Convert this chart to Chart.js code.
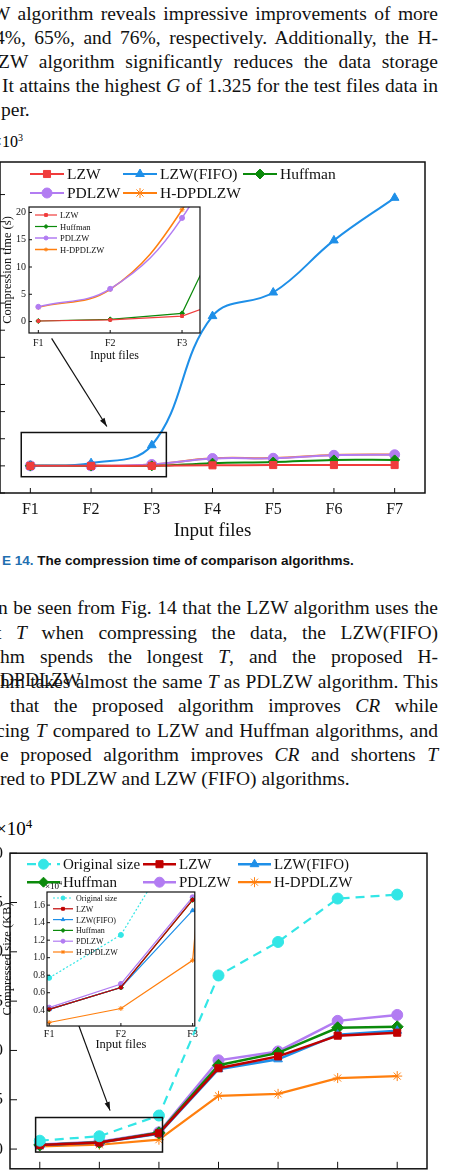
<!DOCTYPE html>
<html>
<head>
<meta charset="utf-8">
<script src="https://cdn.jsdelivr.net/npm/chart.js@4.4.0/dist/chart.umd.min.js"></script>
<style>
  body { margin: 0; width: 474px; height: 1175px; overflow: hidden; background: #fff; position: relative; font-family: "Liberation Serif", "Times New Roman", serif; }
  .ln { position: absolute; font-size: 19.5px; line-height: 23px; white-space: nowrap; color: #111; }
  .j { text-align: justify; text-align-last: justify; white-space: normal; }
  .cap { position: absolute; left: 2px; top: 553px; font: bold 13.5px "Liberation Sans", Arial, sans-serif; color: #111; }
  .cap b { color: #1f6fb0; }
  canvas { position: absolute; }
  .unit { position: absolute; font-size: 16px; }
  .unit sup { font-size: 10px; }
</style>
</head>
<body>
<div class="ln j" style="top:2px;left:-8px;width:446px">W algorithm reveals impressive improvements of more</div>
<div class="ln j" style="top:26px;left:-5px;width:443px">4%, 65%, and 76%, respectively. Additionally, the H-</div>
<div class="ln j" style="top:50px;left:-2px;width:440px">ZW algorithm significantly reduces the data storage</div>
<div class="ln j" style="top:74px;left:2px;width:436px">It attains the highest <i>G</i> of 1.325 for the test files data in</div>
<div class="ln" style="top:98px;left:1px">per.</div>
<div class="unit" style="left:-7px;top:132px">×10<sup>3</sup></div>

<canvas id="c1"></canvas>
<canvas id="c1i"></canvas>

<div class="cap"><b>E 14.</b> The compression time of comparison algorithms.</div>

<div class="ln j" style="top:596px;left:-2px;width:440px">n be seen from Fig. 14 that the LZW algorithm uses the</div>
<div class="ln j" style="top:621px;left:-4px;width:442px">t <i>T</i> when compressing the data, the LZW(FIFO)</div>
<div class="ln j" style="top:645px;left:0px;width:438px">hm spends the longest <i>T</i>, and the proposed H-DPDLZW</div>
<div class="ln j" style="top:670px;left:0px;width:438px">hm takes almost the same <i>T</i> as PDLZW algorithm. This</div>
<div class="ln j" style="top:694px;left:10px;width:428px">that the proposed algorithm improves <i>CR</i> while</div>
<div class="ln j" style="top:719px;left:-4px;width:442px">cing <i>T</i> compared to LZW and Huffman algorithms, and</div>
<div class="ln j" style="top:743px;left:0px;width:438px">e proposed algorithm improves <i>CR</i> and shortens <i>T</i></div>
<div class="ln" style="top:767px;left:0px">red to PDLZW and LZW (FIFO) algorithms.</div>
<div class="unit" style="left:-4px;top:816px;font-size:19px">×10<sup style="font-size:13px">4</sup></div>

<canvas id="c2"></canvas>
<canvas id="c2i"></canvas>
<div class="unit" style="left:45px;top:880px;font-size:9px">×10<sup style="font-size:6px">4</sup></div>

<script>
// ---- data: compression time (main in tick units of the ×10^3 axis, inset in seconds)
const files = ['F1', 'F2', 'F3', 'F4', 'F5', 'F6', 'F7'];
const timeLZW     = [0, 0, 0, 0.02, 0.03, 0.03, 0.03];
const timeFIFO    = [0, 0.1, 0.76, 5.52, 6.39, 8.31, 9.88];
const timeHuffman = [0, 0, 0, 0.1, 0.14, 0.22, 0.22];
const timePDLZW   = [0, 0, 0.05, 0.27, 0.28, 0.39, 0.41];
const timeHDP     = [0, 0, 0.05, 0.28, 0.29, 0.4, 0.42];

const insetFiles = [0, 1, 2, 3];
const insLZW     = [0.1, 0.3, 1.0, 5.8];
const insHuffman = [0.1, 0.4, 1.5, 29];
const insPDLZW   = [2.7, 6.0, 19.0, 45];
const insHDP     = [2.6, 5.9, 20.5, 46];

// ---- data: compressed size (×10^4 KB)
const sizeOrig    = [0.085, 0.13, 0.34, 1.76, 2.10, 2.54, 2.58];
const sizeLZW     = [0.042, 0.066, 0.16, 0.82, 0.94, 1.15, 1.18];
const sizeFIFO    = [0.042, 0.066, 0.155, 0.81, 0.91, 1.16, 1.20];
const sizeHuffman = [0.042, 0.068, 0.165, 0.85, 0.975, 1.23, 1.24];
const sizePDLZW   = [0.047, 0.075, 0.17, 0.90, 0.99, 1.30, 1.36];
const sizeHDP     = [0.028, 0.044, 0.095, 0.54, 0.56, 0.72, 0.74];

const insSizeOrig    = [0.77, 1.26, 2.6];
const insSizeLZW     = [0.41, 0.66, 1.66];
const insSizeFIFO    = [0.41, 0.66, 1.54];
const insSizeHuffman = [0.41, 0.66, 1.66];
const insSizePDLZW   = [0.43, 0.70, 1.69];
const insSizeHDP     = [0.26, 0.42, 0.97, 10];

const SERIF = '"Liberation Serif", "Times New Roman", serif';
const C = {
  red: '#f03c3c', darkred: '#c00000', blue: '#1e8fe8', green: '#0b8a0b',
  purple: '#b27cf2', orange: '#ff7f0e', cyan: '#33e6e6'
};

function ds(label, data, color, style, opt) {
  return Object.assign({
    label, data, borderColor: color, backgroundColor: color,
    pointStyle: style, pointRadius: 5, pointBorderWidth: 1, borderWidth: 2,
    tension: 0
  }, opt || {});
}

// frame, inward ticks, inner legend, zoom box + arrow
const decor = {
  id: 'decor',
  beforeDatasetsDraw(chart, args, o) {
    const a = chart.chartArea, ctx = chart.ctx;
    if (o.fill) { ctx.save(); ctx.fillStyle = '#fff'; ctx.fillRect(a.left, a.top, a.right - a.left, a.bottom - a.top); ctx.restore(); }
  },
  afterDraw(chart, args, o) {
    const a = chart.chartArea, ctx = chart.ctx, x = chart.scales.x, y = chart.scales.y;
    ctx.save();
    ctx.strokeStyle = '#111';
    ctx.lineWidth = o.frame || 1.5;
    ctx.strokeRect(a.left, a.top, a.right - a.left, a.bottom - a.top);
    const tl = o.tick || 5;
    ctx.lineWidth = 1;
    ctx.beginPath();
    y.ticks.forEach(t => { const p = y.getPixelForValue(t.value); ctx.moveTo(a.left, p); ctx.lineTo(a.left + tl, p); });
    x.ticks.forEach((t, i) => { const p = x.getPixelForTick(i); ctx.moveTo(p, a.bottom); ctx.lineTo(p, a.bottom - tl); });
    ctx.stroke();
    if (o.box) {
      const b = o.box;
      ctx.lineWidth = 1.5;
      const x0 = x.getPixelForValue(b[0]), x1 = x.getPixelForValue(b[1]);
      const y0 = y.getPixelForValue(b[2]), y1 = y.getPixelForValue(b[3]);
      ctx.strokeRect(x0, y0, x1 - x0, y1 - y0);
    }
    if (o.arrow) {
      const r = o.arrow;
      const ax = x.getPixelForValue(r[0]), ay = y.getPixelForValue(r[1]);
      const bx = x.getPixelForValue(r[2]), by = y.getPixelForValue(r[3]);
      ctx.lineWidth = 1.2;
      ctx.beginPath(); ctx.moveTo(ax, ay); ctx.lineTo(bx, by); ctx.stroke();
      const ang = Math.atan2(by - ay, bx - ax);
      ctx.beginPath();
      ctx.moveTo(bx, by);
      ctx.lineTo(bx - 9 * Math.cos(ang - 0.3), by - 9 * Math.sin(ang - 0.3));
      ctx.lineTo(bx - 9 * Math.cos(ang + 0.3), by - 9 * Math.sin(ang + 0.3));
      ctx.closePath(); ctx.fillStyle = '#111'; ctx.fill();
    }
    if (o.legend) {
      const L = o.legend;
      ctx.font = L.font + 'px ' + SERIF;
      ctx.textBaseline = 'middle';
      chart.data.datasets.forEach((d, i) => {
        const col = i % L.cols, row = Math.floor(i / L.cols);
        const lx = a.left + L.x + (L.colX ? L.colX[col] : col * L.colW);
        const ly = a.top + L.y + row * L.rowH;
        ctx.strokeStyle = d.borderColor; ctx.fillStyle = d.backgroundColor;
        ctx.lineWidth = d.borderWidth;
        ctx.setLineDash(d.borderDash || []);
        ctx.beginPath(); ctx.moveTo(lx, ly); ctx.lineTo(lx + L.len, ly); ctx.stroke();
        ctx.setLineDash([]);
        ctx.lineWidth = 1;
        Chart.helpers.drawPoint(ctx, { pointStyle: d.pointStyle, radius: L.r, rotation: 0, borderWidth: 1 }, lx + L.len / 2, ly);
        ctx.fillStyle = '#111';
        ctx.fillText(d.label, lx + L.len + 3, ly + 1);
      });
    }
    ctx.restore();
  }
};

function place(id, left, top, w, h) {
  const c = document.getElementById(id);
  c.style.left = left + 'px'; c.style.top = top + 'px';
  c.style.width = w + 'px'; c.style.height = h + 'px';
  c.width = w; c.height = h;
  return c;
}

function keepTicks(step) {
  return s => { s.ticks = s.ticks.filter(t => Math.abs(t.value / step - Math.round(t.value / step)) < 1e-6); };
}
function fixedTicks(values) {
  return s => { s.ticks = values.map(v => ({ value: v })); };
}

function makeChart(id, cfg) {
  return new Chart(document.getElementById(id), Object.assign(cfg, { plugins: [decor] }));
}

Chart.defaults.font.family = SERIF;
Chart.defaults.color = '#111';
Chart.defaults.animation = false;

// ---------- chart 1: compression time ----------
place('c1', -40, 150, 480, 400);
makeChart('c1', {
  type: 'line',
  data: {
    labels: files,
    datasets: [
      ds('LZW', timeLZW, C.red, 'rect', { tension: 0.4 }),
      ds('LZW(FIFO)', timeFIFO, C.blue, 'triangle', { tension: 0.4 }),
      ds('Huffman', timeHuffman, C.green, 'rectRot', { tension: 0.4 }),
      ds('PDLZW', timePDLZW, C.purple, 'circle', { tension: 0.4 }),
      ds('H-DPDLZW', timeHDP, C.orange, 'star', { tension: 0.4, pointRadius: 4 })
    ]
  },
  options: {
    responsive: false, events: [],
    layout: { padding: { top: 6, right: 15, left: 0, bottom: 0 } },
    plugins: {
      legend: { display: false }, tooltip: { enabled: false },
      decor: {
        box: [-0.15, 2.24, 1.23, -0.4], arrow: [0.35, 4.7, 1.26, 1.45],
        legend: { x: 30, y: 12, cols: 3, colX: [0, 93, 213], rowH: 19, len: 34, font: 15.5, r: 5 }
      }
    },
    scales: {
      x: {
        offset: true,
        grid: { display: false, drawTicks: false },
        border: { display: false },
        ticks: { font: { size: 16 }, padding: 7 },
        title: { display: true, text: 'Input files', font: { size: 19 }, padding: { top: 0, bottom: 8 } },
        afterFit: s => { s.height = 57; }
      },
      y: {
        min: -1, max: 11.2,
        grid: { display: false, drawTicks: false },
        border: { display: false },
        ticks: { stepSize: 1, font: { size: 15 } },
        afterBuildTicks: keepTicks(1),
        afterFit: s => { s.width = 40; }
      }
    }
  }
});

// ---------- inset 1 ----------
place('c1i', 0, 198, 205, 165);
makeChart('c1i', {
  type: 'line',
  data: {
    labels: insetFiles,
    datasets: [
      ds('LZW', insetFiles.map((v, i) => ({ x: v, y: insLZW[i] })), C.red, 'rect', { pointRadius: 2, borderWidth: 1.2 }),
      ds('Huffman', insetFiles.map((v, i) => ({ x: v, y: insHuffman[i] })), C.green, 'rectRot', { pointRadius: 2.5, borderWidth: 1.2 }),
      ds('PDLZW', insetFiles.map((v, i) => ({ x: v, y: insPDLZW[i] })), C.purple, 'circle', { pointRadius: 2.5, borderWidth: 1.5, tension: 0.4 }),
      ds('H-DPDLZW', insetFiles.map((v, i) => ({ x: v, y: insHDP[i] })), C.orange, 'star', { pointRadius: 2.5, borderWidth: 1.5, tension: 0.4 })
    ]
  },
  options: {
    responsive: false, events: [],
    layout: { padding: { top: 5, right: 5 } },
    plugins: {
      legend: { display: false }, tooltip: { enabled: false },
      decor: {
        fill: true, frame: 1.2, tick: 3,
        legend: { x: 6, y: 8, cols: 1, colW: 0, rowH: 11.5, len: 22, font: 8.5, r: 2 }
      }
    },
    scales: {
      x: {
        type: 'linear', min: -0.13, max: 2.25,
        grid: { display: false, drawTicks: false }, border: { display: false },
        ticks: { font: { size: 10 }, padding: 4, callback: v => files[v] },
        afterBuildTicks: fixedTicks([0, 1, 2]),
        title: { display: true, text: 'Input files', font: { size: 12 }, padding: 0 },
        afterFit: s => { s.height = 30; }
      },
      y: {
        min: -2.1, max: 21,
        grid: { display: false, drawTicks: false }, border: { display: false },
        ticks: { font: { size: 10 }, padding: 3 },
        afterBuildTicks: fixedTicks([0, 5, 10, 15, 20]),
        title: { display: true, text: 'Compression time (s)', font: { size: 12.5 }, padding: 0 },
        afterFit: s => { s.width = 29; }
      }
    }
  }
});

// ---------- chart 2: compressed size ----------
place('c2', -30, 836, 470, 350);
makeChart('c2', {
  type: 'line',
  data: {
    labels: files,
    datasets: [
      ds('Original size', sizeOrig, C.cyan, 'circle', { borderDash: [9, 6], pointRadius: 5.5, borderWidth: 2.2 }),
      ds('LZW', sizeLZW, C.darkred, 'rect', { borderWidth: 2.5 }),
      ds('LZW(FIFO)', sizeFIFO, C.blue, 'triangle', { borderWidth: 2.5 }),
      ds('Huffman', sizeHuffman, C.green, 'rectRot', { borderWidth: 2.5, pointRadius: 6 }),
      ds('PDLZW', sizePDLZW, C.purple, 'circle', { borderWidth: 2.5, pointRadius: 5.5 }),
      ds('H-DPDLZW', sizeHDP, C.orange, 'star', { borderWidth: 2.2 })
    ]
  },
  options: {
    responsive: false, events: [],
    layout: { padding: { top: 6, right: 13 } },
    plugins: {
      legend: { display: false }, tooltip: { enabled: false },
      decor: {
        tick: 7,
        box: [-0.07, 2.06, 0.32, -0.03], arrow: [0.37, 1.72, 1.18, 0.39],
        legend: { x: 17, y: 11, cols: 3, colX: [0, 116, 211], rowH: 18, len: 33, font: 15, r: 5 }
      }
    },
    scales: {
      x: {
        offset: true,
        grid: { display: false, drawTicks: false }, border: { display: false },
        ticks: { display: false },
        afterFit: s => { s.height = 6; }
      },
      y: {
        min: -0.2, max: 3.0,
        grid: { display: false, drawTicks: false }, border: { display: false },
        ticks: { font: { size: 17 }, padding: 7, callback: v => v === 0 ? '0' : v.toFixed(1) },
        afterBuildTicks: fixedTicks([0, 0.5, 1.0, 1.5, 2.0, 2.5, 3.0]),
        afterFit: s => { s.width = 40; }
      }
    }
  }
});

// ---------- inset 2 ----------
const pts = arr => arr.map((v, i) => ({ x: i, y: v }));
place('c2i', 0, 880, 200, 172);
makeChart('c2i', {
  type: 'line',
  data: {
    datasets: [
      ds('Original size', pts(insSizeOrig), C.cyan, 'circle', { borderDash: [2, 2], pointRadius: 2.5, borderWidth: 1.2 }),
      ds('LZW', pts(insSizeLZW), C.darkred, 'rect', { pointRadius: 2, borderWidth: 1.2 }),
      ds('LZW(FIFO)', pts(insSizeFIFO), C.blue, 'triangle', { pointRadius: 2.5, borderWidth: 1.2 }),
      ds('Huffman', pts(insSizeHuffman), C.green, 'rectRot', { pointRadius: 2.5, borderWidth: 1.2 }),
      ds('PDLZW', pts(insSizePDLZW), C.purple, 'circle', { pointRadius: 2.5, borderWidth: 1.2 }),
      ds('H-DPDLZW', pts(insSizeHDP), C.orange, 'star', { pointRadius: 2.5, borderWidth: 1.2 })
    ]
  },
  options: {
    responsive: false, events: [],
    layout: { padding: { top: 12, right: 5 } },
    plugins: {
      legend: { display: false }, tooltip: { enabled: false },
      decor: {
        fill: true, frame: 1.2, tick: 3,
        legend: { x: 6, y: 6, cols: 1, colW: 0, rowH: 10.8, len: 20, font: 8, r: 2 }
      }
    },
    scales: {
      x: {
        type: 'linear', min: -0.03, max: 2.03,
        grid: { display: false, drawTicks: false }, border: { display: false },
        ticks: { font: { size: 10 }, padding: 2, callback: v => files[v] },
        afterBuildTicks: fixedTicks([0, 1, 2]),
        title: { display: true, text: 'Input files', font: { size: 12.5 }, padding: 0 },
        afterFit: s => { s.height = 26; }
      },
      y: {
        min: 0.22, max: 1.75,
        grid: { display: false, drawTicks: false }, border: { display: false },
        ticks: { font: { size: 9.5 }, padding: 2, callback: v => v.toFixed(1) },
        afterBuildTicks: fixedTicks([0.4, 0.6, 0.8, 1.0, 1.2, 1.4, 1.6]),
        title: { display: true, text: 'Compressed size (KB)', font: { size: 12.5 }, padding: 0 },
        afterFit: s => { s.width = 47; }
      }
    }
  }
});
</script>
</body>
</html>
